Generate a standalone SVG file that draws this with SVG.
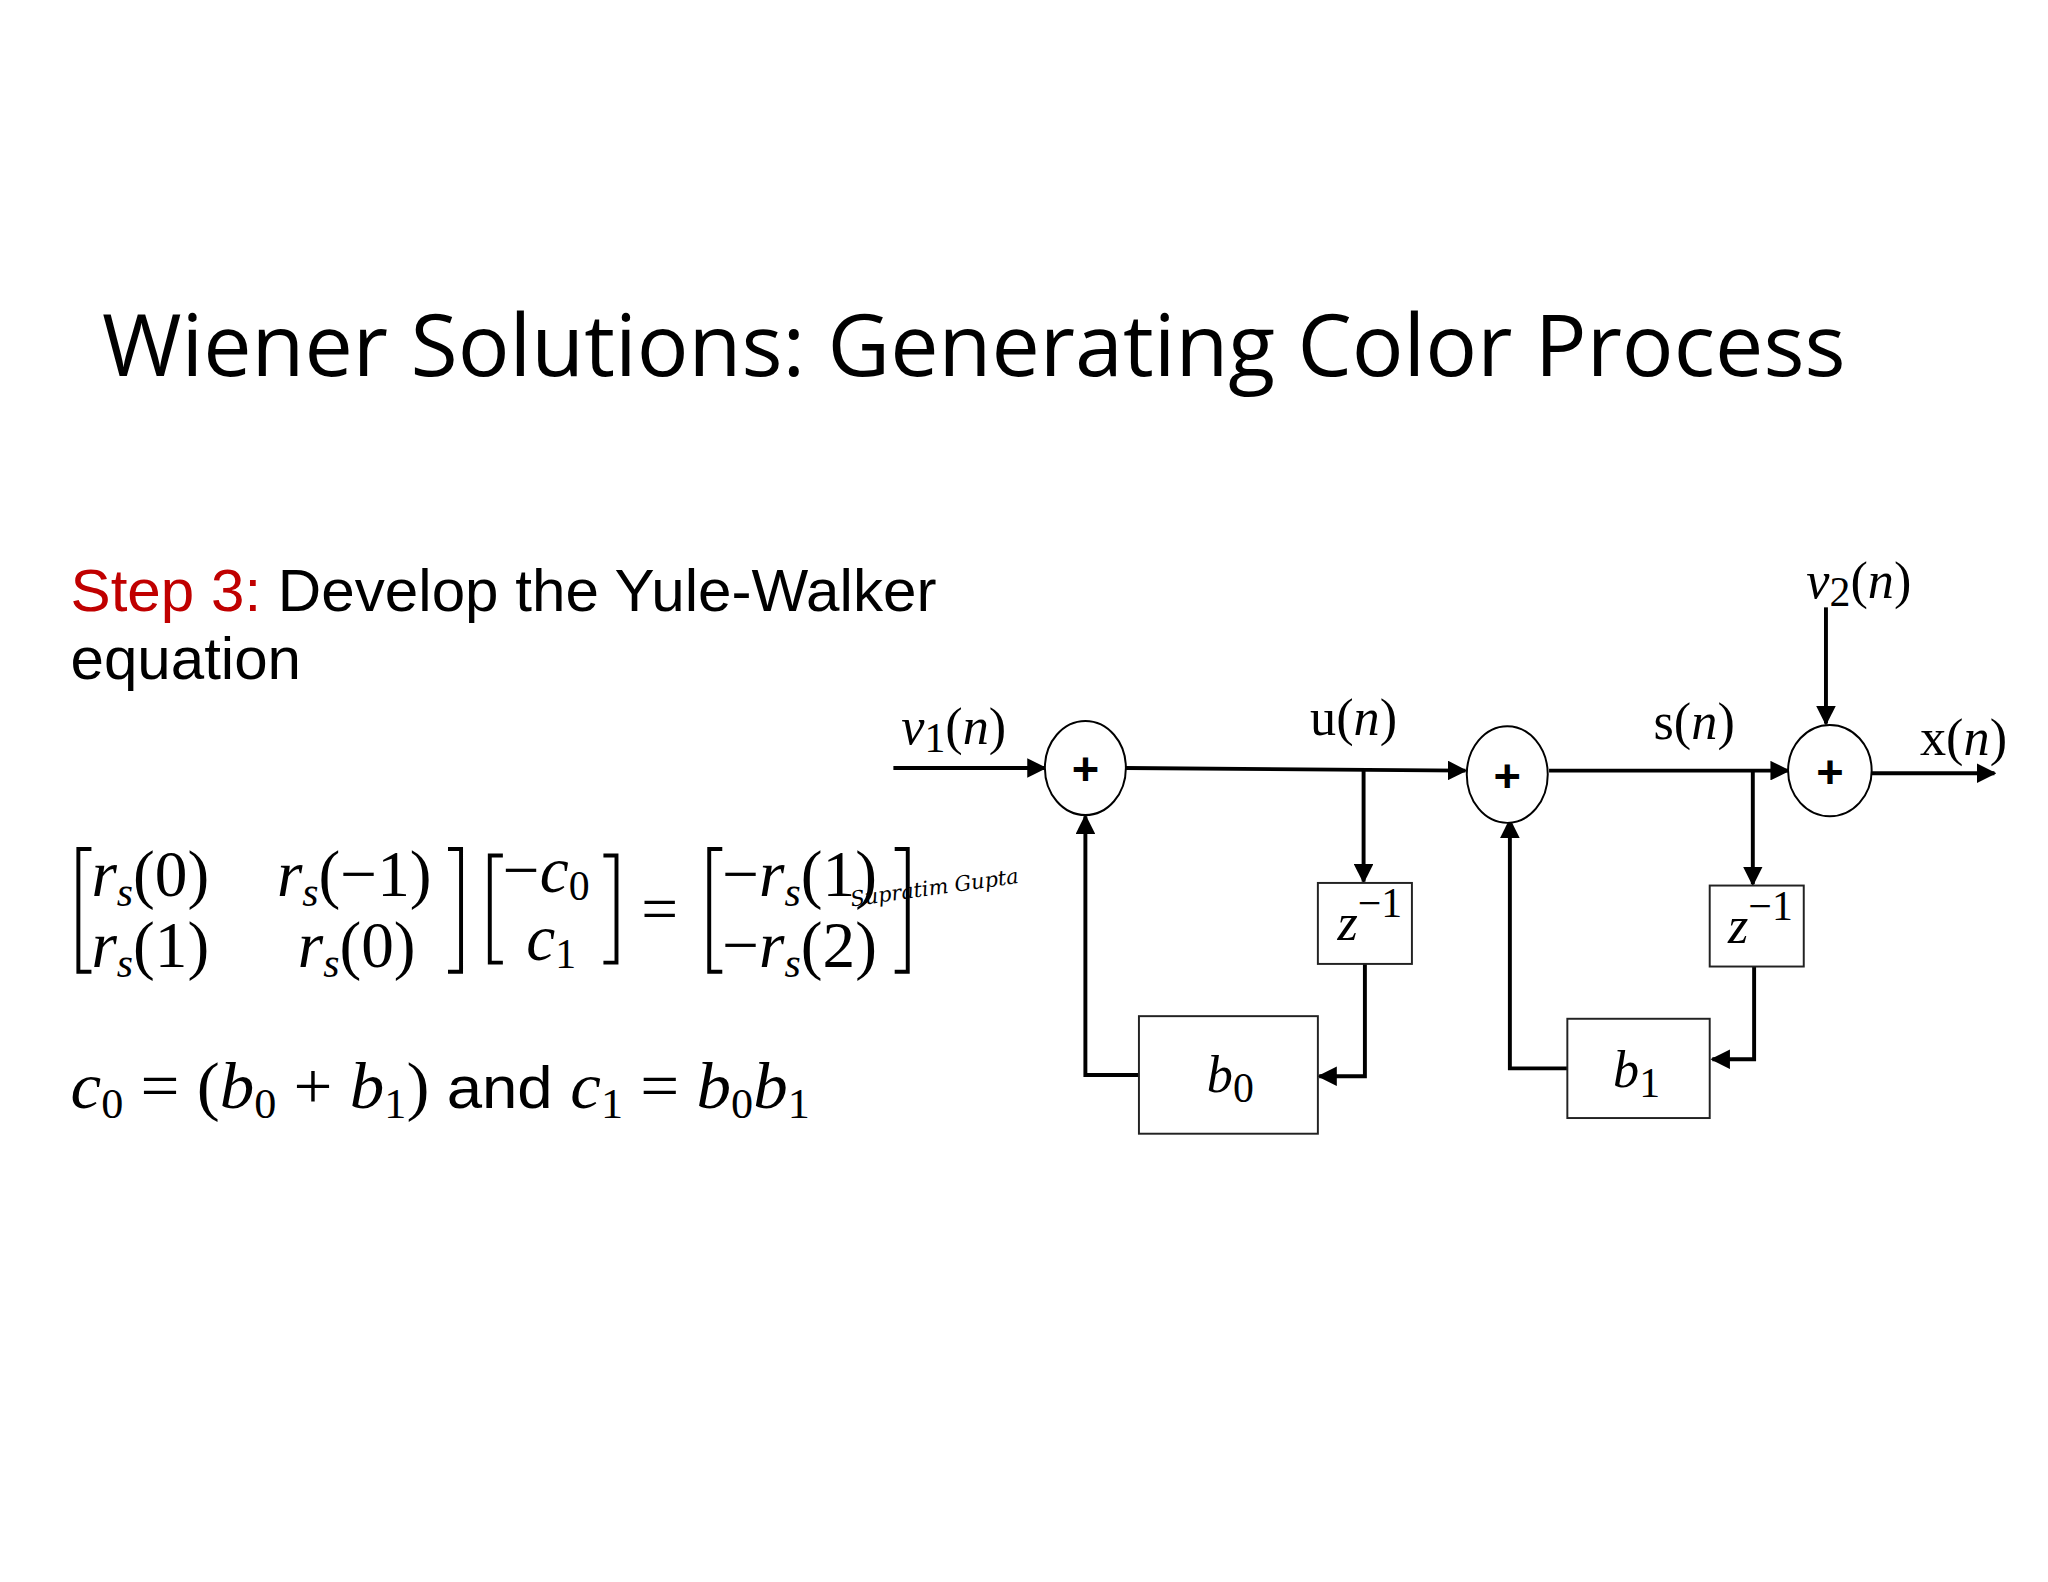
<svg xmlns="http://www.w3.org/2000/svg" width="2048" height="1582" viewBox="0 0 2048 1582">
<defs>
<marker id="ah" viewBox="0 0 10 10" refX="9" refY="5" markerWidth="5" markerHeight="5" orient="auto" markerUnits="strokeWidth"><path d="M0,0 L10,5 L0,10 z" fill="#000"/></marker>
<style>
.ln{stroke:#000;stroke-width:3;fill:none}
.bx{stroke:#222;stroke-width:1.5;fill:#fff}
.ci{stroke:#000;stroke-width:1.5;fill:#fff}
.pl{font-family:"Liberation Sans",Arial,sans-serif;font-weight:bold;font-size:36px;text-anchor:middle}
.m{font-family:"Liberation Serif","DejaVu Serif",serif;font-size:50px}
.mi{font-style:italic}
.lb{font-family:"Liberation Serif","DejaVu Serif",serif;font-size:40px}
.sub{font-size:32px}
.ar{font-family:"Liberation Sans",Arial,sans-serif;font-size:46px}
</style>
</defs>
<rect width="2048" height="1582" fill="#fff"/>
<g transform="scale(1.30612)">
<text id="title" x="78" y="288" font-family="'Open Sans','Noto Sans',sans-serif" font-size="66" textLength="1335" lengthAdjust="spacingAndGlyphs">Wiener Solutions: Generating Color Process</text>
<text class="ar" x="54" y="468" textLength="663" lengthAdjust="spacingAndGlyphs"><tspan fill="#c00000">Step 3:</tspan> Develop the Yule-Walker</text>
<text class="ar" x="54" y="520">equation</text>

<g id="matrix" class="m">
<path d="M70,650 h-10 v94 h10 M343,650 h10 v94 h-10 M385,655 h-10 v82 h10 M462,655 h10 v82 h-10 M553,650 h-10 v94 h10 M685,650 h10 v94 h-10" stroke="#000" stroke-width="3" fill="none"/>
<text x="70" y="686"><tspan class="mi">r</tspan><tspan class="mi sub" dy="8">s</tspan><tspan dy="-8">(0)</tspan></text>
<text x="212" y="686"><tspan class="mi">r</tspan><tspan class="mi sub" dy="8">s</tspan><tspan dy="-8">(−1)</tspan></text>
<text x="70" y="740"><tspan class="mi">r</tspan><tspan class="mi sub" dy="8">s</tspan><tspan dy="-8">(1)</tspan></text>
<text x="228" y="740"><tspan class="mi">r</tspan><tspan class="mi sub" dy="8">s</tspan><tspan dy="-8">(0)</tspan></text>
<text x="385" y="683">−<tspan class="mi">c</tspan><tspan class="sub" dy="6">0</tspan></text>
<text x="403" y="735"><tspan class="mi">c</tspan><tspan class="sub" dy="6">1</tspan></text>
<text x="491" y="713">=</text>
<text x="553" y="686">−<tspan class="mi">r</tspan><tspan class="mi sub" dy="8">s</tspan><tspan dy="-8">(1)</tspan></text>
<text x="553" y="740">−<tspan class="mi">r</tspan><tspan class="mi sub" dy="8">s</tspan><tspan dy="-8">(2)</tspan></text>
</g>
<text x="652" y="694" font-family="'DejaVu Serif',serif" font-style="italic" font-size="16" transform="rotate(-8 652 694)">Supratim Gupta</text>
<text x="54" y="848" class="m" textLength="566" lengthAdjust="spacingAndGlyphs"><tspan class="mi">c</tspan><tspan class="sub" dy="8">0</tspan><tspan dy="-8"> = (</tspan><tspan class="mi">b</tspan><tspan class="sub" dy="8">0</tspan><tspan dy="-8"> + </tspan><tspan class="mi">b</tspan><tspan class="sub" dy="8">1</tspan><tspan dy="-8">) </tspan><tspan font-family="'Liberation Sans',Arial,sans-serif" font-size="46">and </tspan><tspan class="mi">c</tspan><tspan class="sub" dy="8">1</tspan><tspan dy="-8"> = </tspan><tspan class="mi">b</tspan><tspan class="sub" dy="8">0</tspan><tspan class="mi" dy="-8">b</tspan><tspan class="sub" dy="8">1</tspan></text>

<g id="connectors">
<line class="ln" x1="684" y1="588" x2="800" y2="588" marker-end="url(#ah)"/>
<line class="ln" x1="862" y1="588" x2="1122" y2="590" marker-end="url(#ah)"/>
<line class="ln" x1="1186" y1="590" x2="1369" y2="590" marker-end="url(#ah)"/>
<line class="ln" x1="1433" y1="592" x2="1527" y2="592" marker-end="url(#ah)"/>
<line class="ln" x1="1398" y1="465" x2="1398" y2="554" marker-end="url(#ah)"/>
<line class="ln" x1="1044" y1="589" x2="1044" y2="675" marker-end="url(#ah)"/>
<polyline class="ln" points="1045,738 1045,824 1010,824" marker-end="url(#ah)"/>
<polyline class="ln" points="872,823 831,823 831,625" marker-end="url(#ah)"/>
<line class="ln" x1="1342" y1="590" x2="1342" y2="677" marker-end="url(#ah)"/>
<polyline class="ln" points="1343,740 1343,811 1311,811" marker-end="url(#ah)"/>
<polyline class="ln" points="1200,818 1156,818 1156,628" marker-end="url(#ah)"/>
</g>

<g id="sum1"><ellipse class="ci" cx="831" cy="588" rx="31" ry="36"/><text class="pl" x="831" y="601">+</text></g>
<g id="sum2"><ellipse class="ci" cx="1154" cy="593" rx="31" ry="37"/><text class="pl" x="1154" y="606">+</text></g>
<g id="sum3"><ellipse class="ci" cx="1401" cy="590" rx="32" ry="35"/><text class="pl" x="1401" y="603">+</text></g>
<g id="z1"><rect class="bx" x="1009" y="676" width="72" height="62"/><text class="lb" x="1024" y="720"><tspan class="mi">z</tspan><tspan class="sub" dy="-18">−1</tspan></text></g>
<g id="z2"><rect class="bx" x="1309" y="678" width="72" height="62"/><text class="lb" x="1323" y="722"><tspan class="mi">z</tspan><tspan class="sub" dy="-18">−1</tspan></text></g>
<g id="b0"><rect class="bx" x="872" y="778" width="137" height="90"/><text class="lb" x="924" y="836"><tspan class="mi">b</tspan><tspan class="sub" dy="8">0</tspan></text></g>
<g id="b1"><rect class="bx" x="1200" y="780" width="109" height="76"/><text class="lb" x="1235" y="832"><tspan class="mi">b</tspan><tspan class="sub" dy="8">1</tspan></text></g>

<g id="labels" class="lb">
<text x="690" y="570"><tspan class="mi">v</tspan><tspan class="sub" dy="6">1</tspan><tspan dy="-6">(</tspan><tspan class="mi">n</tspan>)</text>
<text x="1003" y="563">u(<tspan class="mi">n</tspan>)</text>
<text x="1266" y="566">s(<tspan class="mi">n</tspan>)</text>
<text x="1470" y="578">x(<tspan class="mi">n</tspan>)</text>
<text x="1383" y="458"><tspan class="mi">v</tspan><tspan class="sub" dy="6">2</tspan><tspan dy="-6">(</tspan><tspan class="mi">n</tspan>)</text>
</g>
</g>
</svg>
